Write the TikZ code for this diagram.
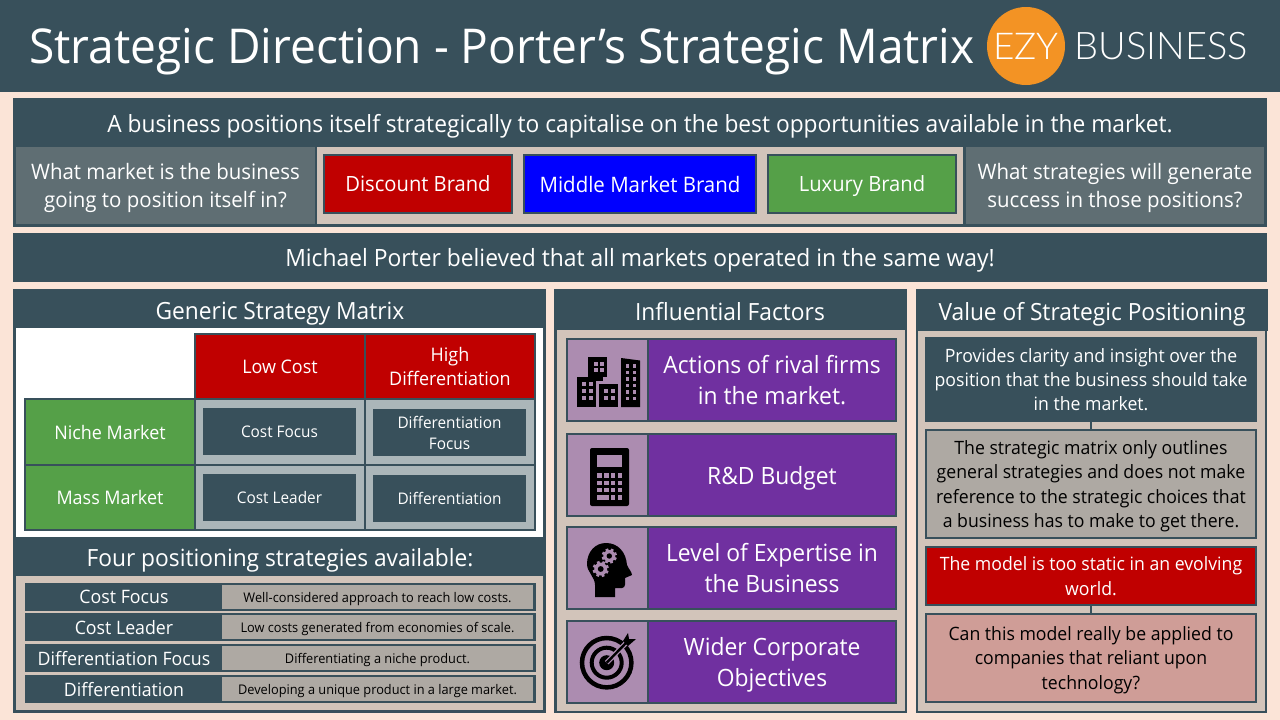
\documentclass[tikz,border=0pt]{standalone}
\usepackage{fontspec}
\setmainfont[FakeStretch=0.96]{Open Sans}
\newfontfamily\logofont{Lato Light}
\usetikzlibrary{calc}

\definecolor{slate}{HTML}{38505B}
\definecolor{peach}{HTML}{FBE4D7}
\definecolor{tan}{HTML}{D2C4BA}
\definecolor{smoke}{HTML}{5F6E73}
\definecolor{ash}{HTML}{AEA9A3}
\definecolor{mist}{HTML}{ABB6B9}
\definecolor{brandred}{HTML}{C00000}
\definecolor{brandblue}{HTML}{0000FF}
\definecolor{brandgreen}{HTML}{55A048}
\definecolor{violet}{HTML}{7030A0}
\definecolor{lilac}{HTML}{AC8CB0}
\definecolor{rose}{HTML}{CF9D97}
\definecolor{logoorange}{HTML}{F39324}

\tikzset{
    cell/.style={anchor=north west, inner sep=0pt, outer sep=0pt, align=center, draw=slate, line width=1.2pt, text=white, text depth=-2},
    slatebox/.style={cell, fill=slate},
    tanbox/.style={cell, fill=tan},
    smokebox/.style={cell, fill=smoke, font=\fontsize{21.3}{28}\selectfont},
    redbox/.style={cell, fill=brandred},
    greenbox/.style={cell, fill=brandgreen},
    greycell/.style={cell, fill=mist},
    iconcell/.style={cell, fill=lilac},
    violetbox/.style={cell, fill=violet, font=\fontsize{23.8}{31}\selectfont},
    heading/.style={text=white, inner sep=0pt, align=center, text depth=-2, font=\fontsize{23.7}{29}\selectfont},
    rowname/.style={text=white, inner sep=0pt, text depth=-2, font=\fontsize{18.5}{24}\selectfont},
    rowtext/.style={cell, fill=ash, draw=none, text=black, font=\fontsize{13.3}{16}\selectfont},
    valuebox/.style={cell, text depth=-3, font=\fontsize{18.4}{24.4}\selectfont},
    link/.style={draw=slate, line width=2pt},
}

\begin{document}
\begin{tikzpicture}[x=1pt,y=-1pt]
    \useasboundingbox (0,0) rectangle (1280,720);
    \fill[peach] (0,0) rectangle (1280,720);

    % Banner
    \fill[slate] (0,0) rectangle (1280,92);
    \node[text=white, inner sep=0pt, anchor=west, text depth=0, font=\fontsize{48}{56}\selectfont] (title) at (29,46) {Strategic Direction - Porter’s Strategic Matrix};
    \node[circle, fill=logoorange, minimum size=78, inner sep=0pt, text=white, text depth=0, font=\logofont\fontsize{37}{40}\selectfont] (ezy) at (1026,46) {EZY};
    \node[text=white, inner sep=0pt, anchor=west, text depth=0, font=\logofont\fontsize{38}{40}\selectfont] (business) at (1074.5,46) {BUSINESS};

    % Top band
    \node[slatebox, minimum width=1252, minimum height=127] (band) at (14,99) {};
    \node[heading] (bandtitle) at (640,123) {A business positions itself strategically to capitalise on the best opportunities available in the market.};
    \node[smokebox, draw=none, minimum width=299, minimum height=77] (askmarket) at (16,147) {What market is the business\\going to position itself in?};
    \node[tanbox, draw=none, minimum width=646, minimum height=77] (brands) at (317,147) {};
    \node[smokebox, draw=none, minimum width=298, minimum height=77] (askstrategy) at (966,147) {What strategies will generate\\success in those positions?};
    \node[redbox, minimum width=188, minimum height=58, font=\fontsize{21}{26}\selectfont] (discount) at (324,155) {Discount Brand};
    \node[cell, fill=brandblue, minimum width=232, minimum height=58, font=\fontsize{21.3}{26}\selectfont] (middle) at (524,155) {Middle Market Brand};
    \node[greenbox, minimum width=188, minimum height=58, font=\fontsize{21}{26}\selectfont] (luxury) at (768,155) {Luxury Brand};

    \node[slatebox, minimum width=1252, minimum height=47, font=\fontsize{23.8}{29}\selectfont] (porter) at (14,234) {Michael Porter believed that all markets operated in the same way!};

    % Generic strategy panel
    \node[slatebox, minimum width=531, minimum height=422] (matrixpanel) at (14,290) {};
    \node[heading] (matrixtitle) at (280,311) {Generic Strategy Matrix};
    \node[cell, draw=none, fill=white, minimum width=527, minimum height=209] (matrixback) at (16,328) {};
    \node[redbox, minimum width=170, minimum height=65, text depth=-3, font=\fontsize{18.7}{24}\selectfont] (lowcost) at (195,334) {Low Cost};
    \node[redbox, minimum width=170, minimum height=65, text depth=-3, font=\fontsize{18.7}{24}\selectfont] (highdiff) at (365,334) {High\\Differentiation};
    \node[greenbox, minimum width=170, minimum height=66, font=\fontsize{18.7}{24}\selectfont] (niche) at (25,399) {Niche Market};
    \node[greenbox, minimum width=170, minimum height=65, font=\fontsize{18.7}{24}\selectfont] (mass) at (25,465) {Mass Market};
    \node[greycell, minimum width=170, minimum height=66] (nichecost) at (195,399) {};
    \node[greycell, minimum width=170, minimum height=66] (nichediff) at (365,399) {};
    \node[greycell, minimum width=170, minimum height=65] (masscost) at (195,465) {};
    \node[greycell, minimum width=170, minimum height=65] (massdiff) at (365,465) {};
    \foreach \boxname/\boxx/\boxy/\boxtext in {costfocus/204/409/Cost Focus, difffocus/374/410/Differentiation\\Focus, costleader/204/475/Cost Leader, diffonly/374/476/Differentiation}
        \node[slatebox, minimum width=151, minimum height=45, font=\fontsize{16}{21}\selectfont] (\boxname) at (\boxx,\boxy) {\boxtext};

    % Four strategies
    \node[heading] (fourtitle) at (280,557) {Four positioning strategies available:};
    \node[tanbox, draw=none, minimum width=527, minimum height=134] (fourback) at (16,576) {};
    \foreach \rowid/\rowy/\rowlabel/\rowdesc in {a/583.5/Cost Focus/Well-considered approach to reach low costs.,
                                                 b/613.5/Cost Leader/Low costs generated from economies of scale.,
                                                 c/644.5/Differentiation Focus/Differentiating a niche product.,
                                                 d/675.5/Differentiation/Developing a unique product in a large market.} {
        \node[slatebox, minimum width=509, minimum height=27] (row\rowid) at (26,\rowy) {};
        \node[rowname] (name\rowid) at (124,\rowy+13.5) {\rowlabel};
        \node[rowtext, minimum width=311, minimum height=24] (desc\rowid) at (222,\rowy+1.5) {\rowdesc};
    }

    % Influential factors
    \node[slatebox, minimum width=351, minimum height=422] (factorpanel) at (555,290) {};
    \node[heading] (factortitle) at (730,311) {Influential Factors};
    \node[tanbox, draw=none, minimum width=348, minimum height=381] (factorback) at (556.5,330) {};
    \foreach \rowid/\rowy/\rowtext in {a/339/Actions of rival firms\\in the market., b/434/R\&D Budget, c/527/Level of Expertise in\\the Business, d/621/Wider Corporate\\Objectives} {
        \node[iconcell, minimum width=81, minimum height=82] (icon\rowid) at (567,\rowy) {};
        \node[violetbox, minimum width=248, minimum height=82] (factor\rowid) at (648,\rowy) {\rowtext};
    }

    % Buildings icon
    \fill (621,358) -- (640,360.5) -- (640,407) -- (621,407) -- cycle;
    \fill (588,357) rectangle (607,377);
    \fill (577,377) rectangle (596,407);
    \fill (599,384) rectangle (618,407);
    \fill (596,377) rectangle (603,381);
    \foreach \winx in {625.5,632.5}
        \foreach \winy in {364,370.5,377,383.5,390,396.5}
            \fill[lilac] (\winx,\winy) rectangle ++(3.5,3.5);
    \foreach \winx in {594,600}
        \foreach \winy in {362,368}
            \fill[lilac] (\winx,\winy) rectangle ++(3.5,3.5);
    \foreach \winx in {582,589}
        \foreach \winy in {382,389,396}
            \fill[lilac] (\winx,\winy) rectangle ++(3.5,3.5);
    \foreach \winx in {604,611}
        \foreach \winy in {389,396}
            \fill[lilac] (\winx,\winy) rectangle ++(3.5,3.5);

    % Calculator icon
    \fill[rounded corners=2pt] (590,448) rectangle (629,506);
    \fill[lilac] (597,455) rectangle (622,467);
    \foreach \keyx in {597,604,610.5,617.5}
        \foreach \keyy in {473,480.5,487.5}
            \fill[lilac] (\keyx,\keyy) rectangle ++(4.5,4.5);
    \fill[lilac] (597,495) rectangle (608.5,499.5);
    \fill[lilac] (610.5,495) rectangle ++(4.5,4.5);
    \fill[lilac] (617.5,495) rectangle ++(4.5,4.5);

    % Head icon
    \fill (595,597) -- (615,597) -- (615,588) -- (622,588) .. controls (626,588) and (625,582) .. (625,578)
        -- (632,575) .. controls (632,572) and (628,568) .. (627,565) .. controls (626,552) and (618,543) .. (606,543)
        .. controls (595,543) and (587,552) .. (587,564) .. controls (587,572) and (595,577) .. (595,585) -- cycle;
    \foreach \gearx/\geary/\gearsize in {609.3/556/6, 600.7/569/6.5} {
        \foreach \toothangle in {0,45,...,315}
            \fill[lilac, shift={(\gearx,\geary)}, rotate=\toothangle+20] (-1.4,-\gearsize-1.6) rectangle (1.4,0);
        \fill[lilac] (\gearx,\geary) circle (\gearsize);
        \fill (\gearx,\geary) circle (\gearsize*0.45);
    }

    % Target icon
    \draw[line width=4.5pt] (606.7,662.7) circle (24.7);
    \draw[line width=4pt] (606.7,662.7) circle (15);
    \fill (606.7,662.7) circle (7.5);
    \draw[lilac, line width=5pt] (606.7,662.7) -- (626,643);
    \draw[line width=2.4pt] (606.7,662.7) -- (626,643);
    \fill (623,641) -- (628,633) -- (629,639) -- (636,639) -- (628,646) -- cycle;

    % Value panel
    \node[tanbox, minimum width=349, minimum height=400] (valueback) at (917,312) {};
    \node[slatebox, minimum width=350, minimum height=40] (valuehead) at (917,290) {};
    \node[heading] (valuetitle) at (1092,311) {Value of Strategic Positioning};
    \node[valuebox, fill=slate, minimum width=330, minimum height=83] (clarity) at (926,338) {Provides clarity and insight over the\\position that the business should take\\in the market.};
    \node[valuebox, fill=ash, text=black, minimum width=330, minimum height=108] (outline) at (926,430) {The strategic matrix only outlines\\general strategies and does not make\\reference to the strategic choices that\\a business has to make to get there.};
    \node[valuebox, fill=brandred, minimum width=330, minimum height=58] (static) at (926,547) {The model is too static in an evolving\\world.};
    \node[valuebox, fill=rose, text=black, minimum width=330, minimum height=88] (reliant) at (926,614) {Can this model really be applied to\\companies that reliant upon\\technology?};
    \draw[link] (clarity) -- (outline);
    \draw[link] (static) -- (reliant);
\end{tikzpicture}
\end{document}
